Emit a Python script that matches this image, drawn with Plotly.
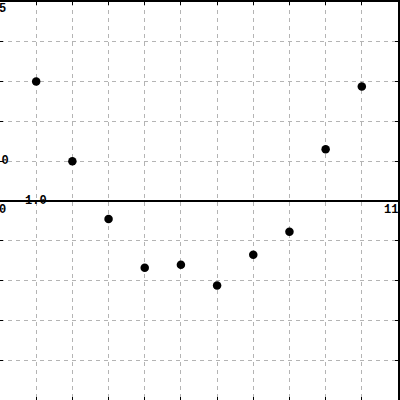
import plotly.graph_objects as go

# Data
x_vals = [1, 2, 3, 4, 5, 6, 7, 8, 9, 10]
y_vals = [3.0, 1.0, -0.45, -1.675, -1.6, -2.125, -1.35, -0.775, 1.3, 2.875]

# Tick labels (as drawn, partially clipped at the edges)
x_label_pos = [0, 1, 11]
x_label_text = ["0", "1.0", "11"]
y_label_pos = [5, 1]
y_label_text = ["5", "1.0"]

FONT = dict(family="Liberation Mono, Courier New, monospace", size=12, color="black", weight="bold")
GRID = "#b4b4b4"

fig = go.Figure()
fig.add_trace(go.Scatter(
    x=x_vals, y=y_vals, mode="markers",
    marker=dict(color="black", size=8.5),
    showlegend=False, cliponaxis=False,
))

annotations = []
# x labels
annotations.append(dict(x=x_label_pos[0], y=0, xref="x", yref="y", text=x_label_text[0],
                        xanchor="right", yanchor="top", xshift=7, yshift=-1))
annotations.append(dict(x=x_label_pos[1], y=0, xref="x", yref="y", text=x_label_text[1],
                        xanchor="center", yanchor="middle", xshift=0, yshift=0))
annotations.append(dict(x=x_label_pos[2], y=0, xref="x", yref="y", text=x_label_text[2],
                        xanchor="right", yanchor="top", xshift=1, yshift=-1))
# y labels
annotations.append(dict(x=0, y=y_label_pos[0], xref="x", yref="y", text=y_label_text[0],
                        xanchor="right", yanchor="top", xshift=7, yshift=1))
annotations.append(dict(x=0, y=y_label_pos[1], xref="x", yref="y", text=y_label_text[1],
                        xanchor="right", yanchor="middle", xshift=10, yshift=0))
for a in annotations:
    a.update(showarrow=False, font=FONT, borderpad=0)

axis_common = dict(
    showgrid=True, gridcolor=GRID, griddash="4px,4px", gridwidth=1,
    showline=True, linecolor="black", linewidth=2, mirror="ticks",
    ticks="inside", ticklen=3, tickcolor="black", tickwidth=1,
    showticklabels=False, dtick=1,
)

fig.update_xaxes(range=[0, 11], zeroline=False, **axis_common)
fig.update_yaxes(range=[-5, 5], zeroline=True, zerolinecolor="black", zerolinewidth=2, **axis_common)

fig.update_layout(
    width=400, height=400,
    margin=dict(l=0, r=0, t=0, b=0),
    paper_bgcolor="white", plot_bgcolor="white",
    annotations=annotations,
)

fig.write_html(
    "out.html",
    config={"displayModeBar": False},
    post_script="document.body.style.margin='0';document.body.style.overflow='hidden';",
)
